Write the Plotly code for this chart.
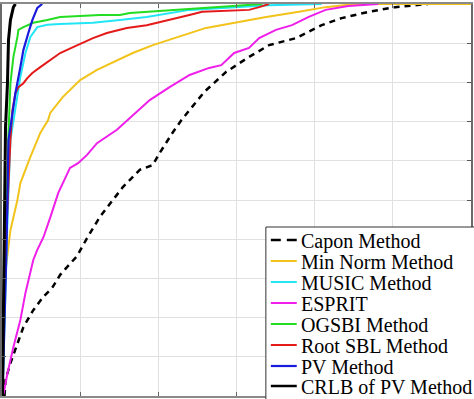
import plotly.graph_objects as go

# ---- data (x in grid units 0..6, y = CDF 0..1) ----
capon_x = [0.032, 0.045, 0.108, 0.197, 0.274, 0.40, 0.528, 0.642, 0.744, 0.846, 0.96, 1.088, 1.253,
           1.546, 1.762, 1.927, 2.017, 2.18, 2.296, 2.589, 2.869, 3.16, 3.416, 3.76, 4.09, 4.345,
           4.69, 5.03, 5.45]
capon_y = [0.0, 0.041, 0.084, 0.135, 0.176, 0.219, 0.253, 0.276, 0.309, 0.332, 0.357, 0.403, 0.457,
           0.533, 0.577, 0.589, 0.62, 0.671, 0.704, 0.776, 0.827, 0.865, 0.895, 0.913, 0.946, 0.964,
           0.98, 0.992, 1.0]

minnorm_x = [0.006, 0.019, 0.032, 0.045, 0.108, 0.197, 0.235, 0.363, 0.49, 0.59, 0.617, 0.78, 0.91,
             1.0, 1.215, 1.47, 1.673, 1.93, 2.14, 2.40, 2.61, 3.03, 3.38, 3.8, 4.14, 4.52, 6.0]
minnorm_y = [0.0, 0.168, 0.27, 0.32, 0.423, 0.5, 0.543, 0.61, 0.671, 0.704, 0.722, 0.763, 0.788,
             0.806, 0.832, 0.857, 0.875, 0.895, 0.908, 0.926, 0.939, 0.954, 0.967, 0.98, 0.992, 1.0, 1.0]

music_x = [0.006, 0.032, 0.07, 0.108, 0.172, 0.235, 0.30, 0.363, 0.452, 0.579, 0.744, 1.164, 1.508,
           1.851, 2.398, 2.996, 3.416, 4.09]
music_y = [0.0, 0.194, 0.449, 0.653, 0.73, 0.814, 0.875, 0.916, 0.941, 0.947, 0.949, 0.952, 0.959,
           0.967, 0.985, 0.992, 0.997, 1.0]

esprit_x = [0.02, 0.07, 0.146, 0.235, 0.30, 0.363, 0.40, 0.45, 0.53, 0.62, 0.72, 0.87, 0.973, 1.088,
            1.215, 1.47, 1.61, 1.89, 2.144, 2.40, 2.65, 2.805, 2.97, 3.16, 3.29, 3.505, 3.71, 3.925,
            4.14, 4.43, 4.815]
esprit_y = [0.005, 0.058, 0.125, 0.194, 0.263, 0.314, 0.347, 0.372, 0.405, 0.457, 0.518, 0.582, 0.594,
            0.615, 0.645, 0.679, 0.704, 0.755, 0.788, 0.819, 0.837, 0.844, 0.875, 0.888, 0.913, 0.934,
            0.946, 0.967, 0.985, 0.995, 1.0]

ogsbi_x = [0.006, 0.032, 0.057, 0.083, 0.108, 0.146, 0.197, 0.21, 0.274, 0.40, 0.579, 0.744, 1.253,
           1.508, 1.635, 1.851, 2.31, 2.742, 3.16, 3.33]
ogsbi_y = [0.0, 0.245, 0.5, 0.671, 0.798, 0.865, 0.916, 0.934, 0.941, 0.952, 0.959, 0.967, 0.972,
           0.972, 0.977, 0.98, 0.985, 0.992, 0.998, 1.0]

rootsbl_x = [0.006, 0.019, 0.045, 0.083, 0.108, 0.134, 0.172, 0.21, 0.274, 0.324, 0.388, 0.49, 0.579,
             0.655, 0.744, 0.91, 1.164, 1.342, 1.597, 1.851, 2.144, 2.398, 2.56, 3.16, 3.29, 3.416]
rootsbl_y = [0.0, 0.194, 0.372, 0.551, 0.653, 0.73, 0.773, 0.788, 0.798, 0.811, 0.824, 0.839, 0.852,
             0.862, 0.875, 0.89, 0.913, 0.926, 0.939, 0.946, 0.959, 0.972, 0.98, 0.985, 0.992, 1.0]

pv_x = [0.006, 0.032, 0.057, 0.083, 0.134, 0.172, 0.235, 0.274, 0.337, 0.388, 0.452, 0.515]
pv_y = [0.0, 0.168, 0.372, 0.653, 0.73, 0.773, 0.839, 0.883, 0.926, 0.959, 0.99, 1.0]

crlb_x = [0.006, 0.019, 0.032, 0.045, 0.07, 0.083, 0.108, 0.146, 0.172]
crlb_y = [0.0, 0.245, 0.5, 0.686, 0.798, 0.908, 0.959, 0.992, 1.0]

x_ticks = [0, 1, 2, 3, 4, 5, 6]
y_ticks = [0, 0.1, 0.2, 0.3, 0.4, 0.5, 0.6, 0.7, 0.8, 0.9, 1.0]

series = [
    ("Capon Method", capon_x, capon_y, "#000000", 2.5, "6px,5px"),
    ("Min Norm Method", minnorm_x, minnorm_y, "#F2C31A", 2, "solid"),
    ("MUSIC Method", music_x, music_y, "#22E6F5", 2, "solid"),
    ("ESPRIT", esprit_x, esprit_y, "#F01EEB", 2, "solid"),
    ("OGSBI Method", ogsbi_x, ogsbi_y, "#22DD22", 2, "solid"),
    ("Root SBL Method", rootsbl_x, rootsbl_y, "#E41A1A", 2, "solid"),
    ("PV Method", pv_x, pv_y, "#1A1ADD", 2.2, "solid"),
    ("CRLB of PV Method", crlb_x, crlb_y, "#000000", 3, "solid"),
]

fig = go.Figure()
for name, xs, ys, col, w, dash in series:
    fig.add_trace(go.Scatter(x=xs, y=ys, mode="lines", name=name,
                             line=dict(color=col, width=w, dash=dash),
                             showlegend=False))

# ---- manual legend (MATLAB-style tight box) ----
W, H = 474, 399
ml, mr, mt, mb = 2, 1, 4, 3
pw, ph = W - ml - mr, H - mt - mb


def px(xp):
    return (xp - ml) / pw


def py(yp):
    return (H - mb - yp) / ph


shapes = [dict(type="rect", xref="paper", yref="paper",
               x0=px(267), x1=px(478), y0=py(404), y1=py(227),
               fillcolor="white", line=dict(color="#333333", width=1), layer="above")]
annotations = []
row_y = [240, 261, 282, 303, 324, 345, 366, 386]
for (name, xs, ys, col, w, dash), ry in zip(series, row_y):
    if dash != "solid":
        for a, b in [(272, 282), (288, 298)]:
            shapes.append(dict(type="line", xref="paper", yref="paper",
                               x0=px(a), x1=px(b), y0=py(ry), y1=py(ry),
                               line=dict(color=col, width=2.5), layer="above"))
    else:
        shapes.append(dict(type="line", xref="paper", yref="paper",
                           x0=px(272), x1=px(298), y0=py(ry), y1=py(ry),
                           line=dict(color=col, width=min(w, 2.5)), layer="above"))
    annotations.append(dict(text=name, xref="paper", yref="paper",
                            x=px(300), y=py(ry + 1), xanchor="left", yanchor="middle",
                            showarrow=False,
                            font=dict(family="Liberation Serif, Times New Roman, serif",
                                      size=20, color="black")))

fig.update_layout(
    width=W, height=H,
    margin=dict(l=ml, r=mr, t=mt, b=mb),
    paper_bgcolor="white", plot_bgcolor="white",
    shapes=shapes, annotations=annotations,
    showlegend=False,
)
fig.update_xaxes(range=[0, 6], tickvals=x_ticks, showticklabels=False,
                 showgrid=True, gridcolor="#e0e0e0", gridwidth=1, zeroline=False,
                 showline=True, linecolor="#8a8a8a", linewidth=2, mirror="ticks",
                 ticks="inside", ticklen=4, tickcolor="#666666")
fig.update_yaxes(range=[0, 1], tickvals=y_ticks, showticklabels=False,
                 showgrid=True, gridcolor="#e0e0e0", gridwidth=1, zeroline=False,
                 showline=True, linecolor="#6a6a6a", linewidth=2, mirror="ticks",
                 ticks="inside", ticklen=4, tickcolor="#555555")

fig.write_html("out.html", config={"displayModeBar": False},
               post_script="document.body.style.margin='0';document.body.style.overflow='hidden';")
